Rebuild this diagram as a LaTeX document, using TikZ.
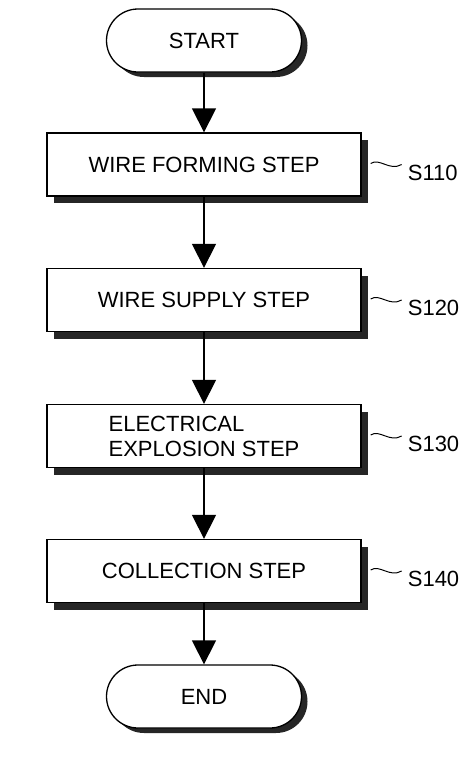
\documentclass[tikz,border=0pt]{standalone}
\usepackage{fontspec}
\setmainfont{Liberation Sans}
\usetikzlibrary{arrows.meta,shadows}
\begin{document}
\begin{tikzpicture}[x=1pt,y=1pt,
  txt/.style={font=\fontsize{22}{25}\selectfont},
  stepbox/.style={txt, draw, line width=1.3pt, fill=white, minimum width=314pt,
    minimum height=63pt, inner sep=0pt, align=left,
    drop shadow={shadow xshift=7pt, shadow yshift=-7pt, fill=black!85, opacity=1}},
  term/.style={txt, draw, line width=1.3pt, fill=white, rounded corners=31.5pt,
    minimum width=195pt, minimum height=63pt, inner sep=0pt,
    drop shadow={shadow xshift=6pt, shadow yshift=-5pt, fill=black!85, opacity=1}},
  flow/.style={line width=1.3pt, -{Triangle[width=24pt,length=24pt]}},
  tag/.style={txt, anchor=west, inner sep=0pt},
  wave/.style={line width=1pt}
]
\useasboundingbox (0,0) rectangle (474,-777);

\node[term] (start) at (204,-40.5) {START};
\node[stepbox] (b1) at (204,-164.5) {WIRE FORMING STEP};
\node[stepbox] (b2) at (204,-300) {WIRE SUPPLY STEP};
\node[stepbox] (b3) at (204,-436) {ELECTRICAL\\EXPLOSION STEP};
\node[stepbox] (b4) at (204,-571) {COLLECTION STEP};
\node[term] (end) at (204,-696.5) {END};

\draw[flow] (start) -- (b1);
\draw[flow] (b1) -- (b2);
\draw[flow] (b2) -- (b3);
\draw[flow] (b3) -- (b4);
\draw[flow] (b4) -- (end);

\foreach \b/\s in {b1/S110, b2/S120, b3/S130, b4/S140}{
  \node[tag] (\b-tag) at ([xshift=46pt,yshift=-8pt]\b.east) {\s};
  \draw[wave] ([xshift=9pt,yshift=1pt]\b.east) .. controls +(9pt,6pt) and +(-12pt,-7pt) .. ([xshift=-6pt,yshift=8pt]\b-tag.west);
}
\end{tikzpicture}
\end{document}
